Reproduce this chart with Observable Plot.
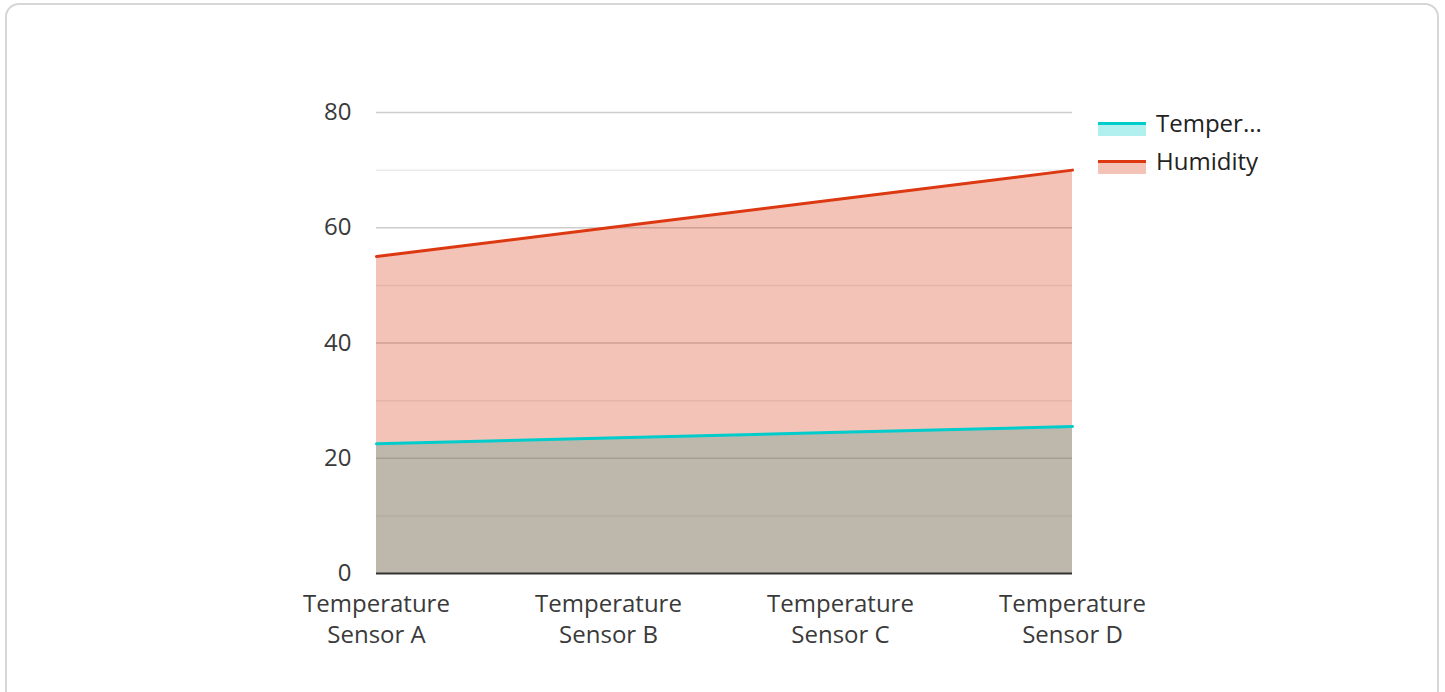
<!DOCTYPE html>
<html><head><meta charset="utf-8">
<script src="https://cdn.jsdelivr.net/npm/d3@7"></script>
<script src="https://cdn.jsdelivr.net/npm/@observablehq/plot@0.6"></script>
<style>
body{margin:0;background:#fff;font-family:"Open Sans",sans-serif;overflow:hidden;}
#card{position:absolute;left:5px;top:3px;width:1434px;height:710px;border:2px solid #d6d6d6;border-radius:14px;box-sizing:border-box;}
#chart{position:absolute;left:0;top:0;}
.sw{position:absolute;left:1098px;width:48px;height:14px;box-sizing:border-box;border-top:3px solid;}
.lt{position:absolute;left:1156px;font-size:24px;line-height:32px;color:#222;white-space:nowrap;}
</style></head>
<body>
<div id="card"></div>
<div id="chart"></div>
<div id="legend"></div>
<script>
const sensors = ["Temperature Sensor A", "Temperature Sensor B", "Temperature Sensor C", "Temperature Sensor D"];
const temperature = [22.5, 23.5, 24.5, 25.5];
const humidity = [55, 60, 65, 70];
const seriesNames = ["Temper...", "Humidity"];
const seriesColors = ["#00cccc", "#dc3912"];
const yTicks = [0, 20, 40, 60, 80];
const yMinor = [10, 30, 50, 70];

const data = sensors.map((s, i) => ({sensor: s, temperature: temperature[i], humidity: humidity[i]}));

const chart = Plot.plot({
  width: 1445, height: 692,
  marginLeft: 376, marginRight: 373, marginTop: 112, marginBottom: 119,
  x: {type: "point", domain: sensors, padding: 0},
  y: {domain: [0, 80]},
  style: {fontFamily: "'Open Sans', sans-serif", fontSize: "24px", color: "#3a3a3a", background: "transparent"},
  marks: [
    Plot.ruleY(yMinor, {stroke: "#ebebeb", strokeWidth: 1.5}),
    Plot.ruleY(yTicks.slice(1), {stroke: "#cccccc", strokeWidth: 1.5}),
    Plot.areaY(data, {x: "sensor", y: "temperature", fill: seriesColors[0], fillOpacity: 0.3, curve: "linear"}),
    Plot.areaY(data, {x: "sensor", y: "humidity", fill: seriesColors[1], fillOpacity: 0.3, curve: "linear"}),
    Plot.lineY(data, {x: "sensor", y: "temperature", stroke: seriesColors[0], strokeWidth: 3}),
    Plot.lineY(data, {x: "sensor", y: "humidity", stroke: seriesColors[1], strokeWidth: 3}),
    Plot.ruleY([0], {stroke: "#333", strokeWidth: 2}),
    Plot.axisY({ticks: yTicks, tickSize: 0, tickPadding: 25, label: null, fontSize: 24}),
    Plot.axisX({tickSize: 0, tickPadding: 16, label: null, fontSize: 24, lineHeight: 1.3,
      tickFormat: d => d.replace(" Sensor", "\nSensor")})
  ]
});
document.getElementById("chart").appendChild(chart);

const legend = document.getElementById("legend");
const rowTops = [121.5, 159.5];
seriesNames.forEach((name, i) => {
  const sw = document.createElement("div");
  sw.className = "sw";
  sw.style.top = rowTops[i] + "px";
  sw.style.borderTopColor = seriesColors[i];
  sw.style.background = d3.color(seriesColors[i]).copy({opacity: 0.3}).toString();
  legend.appendChild(sw);
  const t = document.createElement("div");
  t.className = "lt";
  t.style.top = (rowTops[i] - 14.5) + "px";
  t.textContent = name;
  legend.appendChild(t);
});
</script>
</body></html>
